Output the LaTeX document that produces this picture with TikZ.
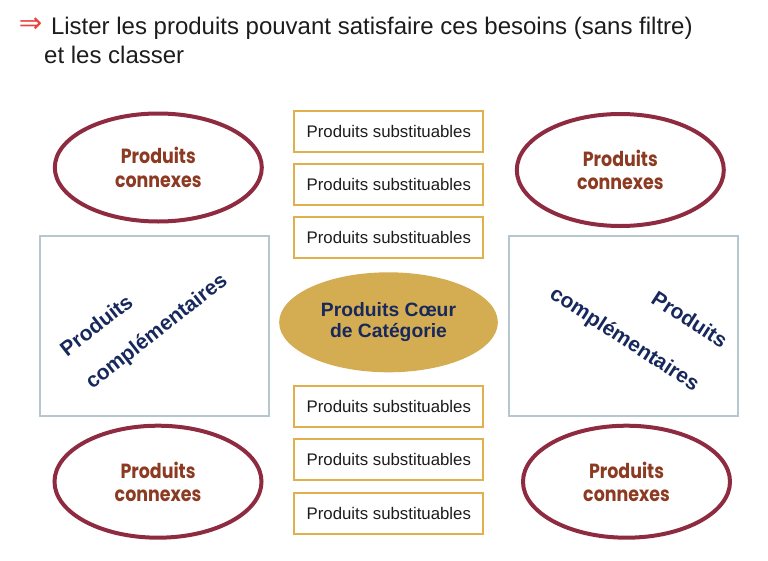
\documentclass[tikz,border=0pt]{standalone}
\usepackage{fontspec}
\setmainfont{Liberation Sans}
\newfontfamily\connexfont[FakeStretch=0.85]{Poppins}
\newfontfamily\symbfont{DejaVu Sans}
\usetikzlibrary{shapes.geometric,positioning}

\definecolor{connexered}{HTML}{8E2B40}
\definecolor{connexetext}{HTML}{8C3A22}
\definecolor{substgold}{HTML}{DFB04C}
\definecolor{coregold}{HTML}{D4AC52}
\definecolor{navyblue}{HTML}{17285C}
\definecolor{complgrey}{HTML}{B7C7CF}
\definecolor{arrowred}{HTML}{E6423E}
\definecolor{titleblack}{HTML}{1C1C1C}

\begin{document}
\begin{tikzpicture}[x=1pt,y=-1pt,
    substbox/.style={draw=substgold, line width=2pt, minimum width=189pt, minimum height=41pt,
        inner sep=0pt, text=titleblack, font=\fontsize{16.8}{20}\selectfont},
    connexe/.style={ellipse, draw=connexered, line width=4pt, minimum width=207pt, minimum height=112pt,
        inner sep=0pt, align=center, text=connexetext, font=\connexfont\bfseries\fontsize{20.5}{23.5}\selectfont},
    complbox/.style={draw=complgrey, line width=2pt, minimum width=229pt, minimum height=179.5pt},
    compltext/.style={text=navyblue, inner sep=0pt, font=\bfseries\fontsize{21}{41}\selectfont}]
    \useasboundingbox (0,0) rectangle (768,560);
    %\draw[very thin,color=gray] (0,0) grid[step=50] (768,560);
    \node[text=arrowred, inner sep=0pt, font=\symbfont\fontsize{28}{28}\selectfont] (bullet) at (30.5,25) {⇒};
    \node[anchor=north west, inner sep=0pt, align=left, text=titleblack,
        font=\fontsize{24}{29}\selectfont] (title) at (44,17)
        {\hspace*{6.8pt}Lister les produits pouvant satisfaire ces besoins (sans filtre)\\et les classer};

    \node[connexe, minimum height=108pt] (conTL) at (158.3,167.5) {Produits\\connexes};
    \node[connexe] (conTR) at (620.3,170) {Produits\\connexes};
    \node[connexe] (conBL) at (158,481.7) {Produits\\connexes};
    \node[connexe] (conBR) at (626.5,481.7) {Produits\\connexes};

    \node[substbox] (sub1) at (388.8,131.3) {Produits substituables};
    \node[substbox, below=10.3pt of sub1] (sub2) {Produits substituables};
    \node[substbox, below=10.3pt of sub2] (sub3) {Produits substituables};
    \node[substbox] (sub4) at (388.8,406.5) {Produits substituables};
    \node[substbox, below=10.3pt of sub4] (sub5) {Produits substituables};
    \node[substbox, below=10.3pt of sub5] (sub6) {Produits substituables};

    \node[ellipse, fill=coregold, minimum width=218.7pt, minimum height=100pt, inner sep=0pt,
        align=center, text=navyblue, font=\bfseries\fontsize{19.3}{21.3}\selectfont] (core) at (388.5,322.3)
        {Produits Cœur\\de Catégorie};

    \node[complbox] (complL) at (154.2,325.8) {};
    \node[complbox] (complR) at (623.8,325.8) {};
    \node[compltext, align=left, rotate=38] (complLtext) at (144.5,316) {Produits\\complémentaires};
    \node[compltext, align=right, rotate=-33, font=\bfseries\fontsize{21}{51}\selectfont] (complRtext) at (638,318.7)
        {Produits\\complémentaires};
\end{tikzpicture}
\end{document}
